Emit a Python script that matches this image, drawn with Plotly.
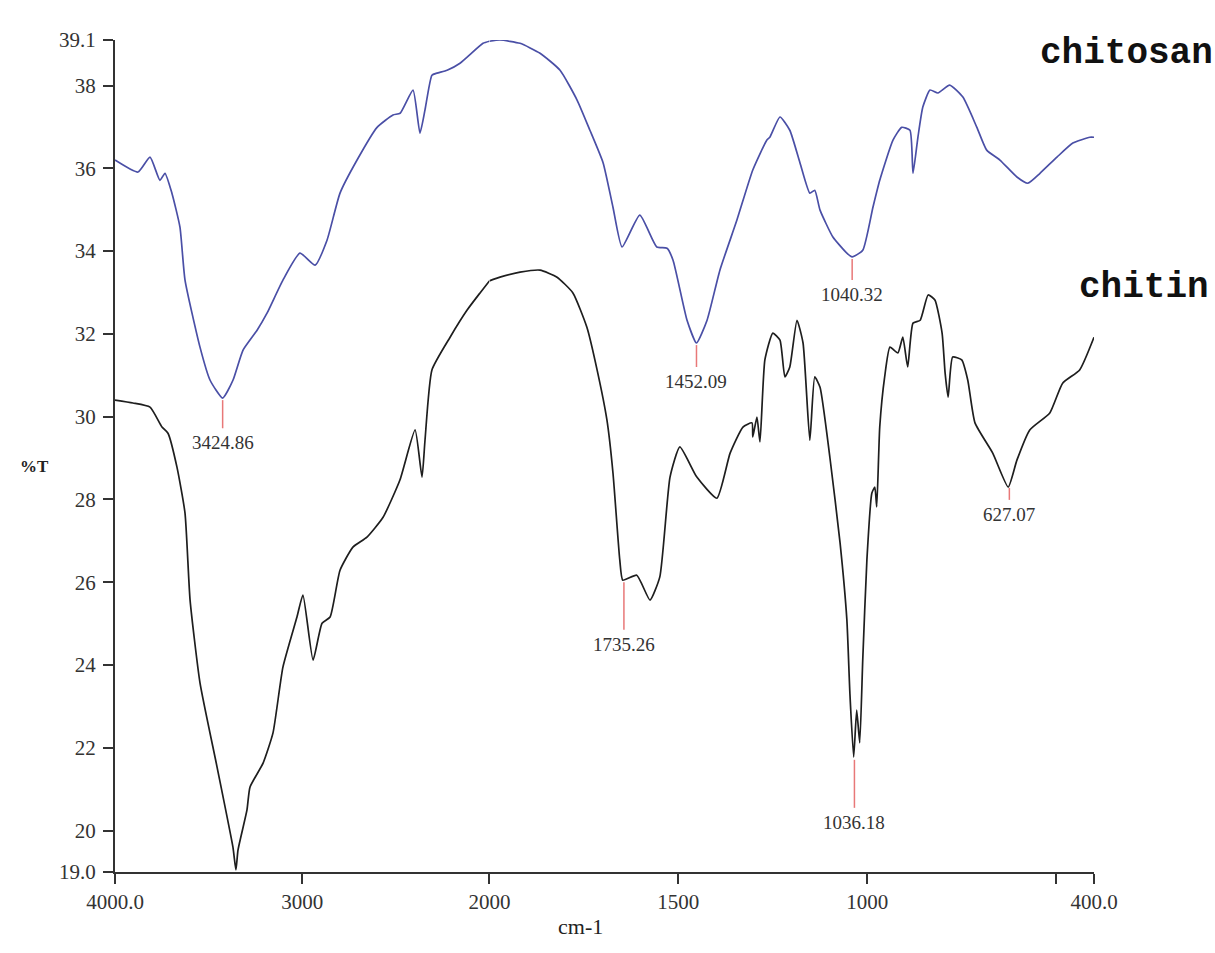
import numpy as np
import plotly.graph_objects as go

# ---------------- data (wavenumber cm-1, %T) ----------------
chitosan_wn = [4000, 3877, 3813, 3760, 3733, 3696, 3653, 3626, 3546, 3492, 3425, 3370, 3316, 3241,
               3188, 3103, 3012, 2931, 2867, 2798, 2707, 2600, 2515, 2477, 2408, 2371, 2344, 2307,
               2280, 2226, 2157, 2034, 2000,
               1972, 1919, 1866, 1813, 1768, 1734, 1699, 1673, 1649, 1602, 1557, 1530, 1514, 1477,
               1452, 1424, 1390, 1345, 1303, 1266, 1258, 1231, 1205, 1178, 1152, 1139, 1125, 1091,
               1054, 1040, 1012, 985, 967, 932, 909, 887, 879, 866, 853, 834, 813, 782, 747, 710,
               684, 649, 604, 575, 543, 498, 456, 411, 400]
chitosan_T = [36.20, 35.91, 36.27, 35.71, 35.88, 35.40, 34.58, 33.30, 31.68, 30.88, 30.45, 30.88, 31.61, 32.09,
              32.50, 33.30, 33.95, 33.66, 34.27, 35.40, 36.20, 36.99, 37.29, 37.33, 37.89, 36.85, 37.41, 38.25,
              38.30, 38.37, 38.54, 39.02, 39.07,
              39.10, 39.02, 38.78, 38.37, 37.65, 36.92, 36.13, 35.06, 34.10, 34.87, 34.10, 34.07, 33.78, 32.33,
              31.78, 32.33, 33.54, 34.75, 35.96, 36.68, 36.75, 37.24, 36.92, 36.13, 35.40, 35.47, 34.99, 34.34,
              33.95, 33.86, 34.02, 35.06, 35.71, 36.68, 36.99, 36.92, 35.88, 36.75, 37.48, 37.89, 37.82, 38.01, 37.72, 36.99,
              36.44, 36.20, 35.79, 35.64, 35.88, 36.27, 36.61, 36.75, 36.75]

chitin_wn = [4000, 3904, 3813, 3749, 3717, 3669, 3626, 3599, 3546, 3455, 3370, 3354, 3343, 3295, 3279,
             3209, 3156, 3103, 3028, 2996, 2942, 2894, 2851, 2798, 2729, 2654, 2568, 2478, 2397, 2360,
             2344, 2307, 2210, 2120, 2050, 2000,
             1972, 1919, 1866, 1821, 1779, 1742, 1715, 1689, 1673, 1655, 1647, 1610, 1575, 1549, 1522,
             1496, 1451, 1398, 1363, 1329, 1305, 1303, 1292, 1284, 1271, 1250, 1231, 1218, 1205, 1186,
             1170, 1152, 1139, 1125, 1099, 1072, 1054, 1046, 1036, 1028, 1020, 1012, 1001, 988, 980,
             975, 967, 954, 940, 919, 906, 893, 879, 860, 839, 821, 802, 794, 786, 774, 750, 734, 715,
             668, 627, 604, 570, 517, 483, 438, 400]
chitin_T = [30.40, 30.33, 30.23, 29.75, 29.60, 28.78, 27.67, 25.57, 23.57, 21.54, 19.60, 19.05, 19.53, 20.50, 21.05,
            21.63, 22.36, 23.95, 25.16, 25.69, 24.12, 25.01, 25.16, 26.29, 26.85, 27.09, 27.57, 28.47, 29.68, 28.54,
            29.43, 31.13, 31.92, 32.57, 32.99, 33.28,
            33.37, 33.49, 33.54, 33.37, 32.99, 32.16, 31.13, 29.92, 28.64, 26.54, 26.05, 26.17, 25.57, 26.13, 28.54,
            29.27, 28.54, 28.03, 29.12, 29.75, 29.85, 29.51, 29.99, 29.39, 31.37, 32.02, 31.85, 30.96, 31.20, 32.33,
            31.78, 29.43, 30.96, 30.71, 29.02, 26.95, 25.09, 23.32, 21.78, 22.91, 22.12, 24.12, 26.54, 28.15, 28.30,
            27.82, 29.75, 30.96, 31.68, 31.54, 31.92, 31.20, 32.26, 32.33, 32.94, 32.82, 32.02, 31.05, 30.47, 31.44, 31.37, 30.88, 29.85,
            29.12, 28.30, 28.95, 29.68, 30.09, 30.81, 31.13, 31.92]

# peak markers: axis position, label, marker top / bottom (%T)
peak_pos = [3425, 1452, 1040, 1644, 1034, 624]
peak_label = ["3424.86", "1452.09", "1040.32", "1735.26", "1036.18", "627.07"]
peak_top = [30.40, 31.73, 33.81, 26.00, 21.71, 28.28]
peak_bottom = [29.72, 31.20, 33.30, 24.85, 20.55, 27.99]

x_ticks_hi = [4000, 3000, 2000]
x_text_hi = ["4000.0", "3000", "2000"]
x_ticks_lo = [1500, 1000, 500, 400]
x_text_lo = ["1500", "1000", "", "400.0"]
y_ticks = [19.0, 20, 22, 24, 26, 28, 30, 32, 34, 36, 38, 39.1]
y_text = ["19.0", "20", "22", "24", "26", "28", "30", "32", "34", "36", "38", "39.1"]

# ---------------- figure ----------------
BLUE = "#4a4fa6"
BLACK = "#1e1e1e"
AX = "#333333"
SERIF = "Liberation Serif, Times New Roman, serif"
MONO = "Liberation Mono, Courier New, monospace"

fig = go.Figure()

def add_split(wn, T, color, width, name):
    wn = np.array(wn, dtype=float)
    T = np.array(T, dtype=float)
    hi = wn >= 2000
    lo = wn <= 2000
    ln = dict(color=color, width=width, shape="spline", smoothing=0.5)
    fig.add_trace(go.Scatter(x=wn[hi], y=T[hi], mode="lines", xaxis="x", yaxis="y",
                             line=ln, name=name, showlegend=False))
    fig.add_trace(go.Scatter(x=wn[lo], y=T[lo], mode="lines", xaxis="x2", yaxis="y",
                             line=ln, name=name, showlegend=False))

add_split(chitosan_wn, chitosan_T, BLUE, 1.7, "chitosan")
add_split(chitin_wn, chitin_T, BLACK, 1.7, "chitin")

for pos, lab, top, bot in zip(peak_pos, peak_label, peak_top, peak_bottom):
    xr = "x" if pos >= 2000 else "x2"
    fig.add_shape(type="line", xref=xr, yref="y", x0=pos, x1=pos, y0=top, y1=bot,
                  line=dict(color="#e87878", width=1.5))
    fig.add_annotation(xref=xr, yref="y", x=pos, y=bot, text=lab, showarrow=False,
                       yanchor="top", xanchor="center", yshift=-2,
                       font=dict(family=SERIF, size=19, color="#333333"))

D = 374.4 / 979.0
axis_common = dict(showline=True, linecolor=AX, linewidth=2, ticks="outside", ticklen=10,
                   tickwidth=2, tickcolor=AX, showgrid=False, zeroline=False,
                   tickfont=dict(family=SERIF, size=21, color="#333333"))

fig.update_layout(
    width=1215, height=953,
    margin=dict(l=115, r=121, t=40, b=81),
    paper_bgcolor="white", plot_bgcolor="white",
    xaxis=dict(domain=[0, D], range=[4000, 2000], tickmode="array", tickvals=x_ticks_hi,
               ticktext=x_text_hi, anchor="y", **axis_common),
    xaxis2=dict(domain=[D, 1], range=[2000, 400], tickmode="array", tickvals=x_ticks_lo,
                ticktext=x_text_lo, anchor="y", **axis_common),
    yaxis=dict(range=[19.0, 39.1], tickmode="array", tickvals=y_ticks, ticktext=y_text,
               ticklabelstandoff=3, **axis_common),
)

fig.add_annotation(xref="paper", yref="paper", x=-0.082, y=0.487, text="<b>%T</b>",
                   showarrow=False, xanchor="center", yanchor="middle",
                   font=dict(family=SERIF, size=17, color="#222222"))
fig.add_annotation(xref="paper", yref="paper", x=0.475, y=-0.066, text="cm-1",
                   showarrow=False, xanchor="center", yanchor="middle",
                   font=dict(family=SERIF, size=22, color="#222222"))
fig.add_annotation(xref="paper", yref="paper", x=0.943, y=0.984, text="<b>chitosan</b>",
                   showarrow=False, xanchor="left", yanchor="middle",
                   font=dict(family=MONO, size=36, color="#111111"))
fig.add_annotation(xref="paper", yref="paper", x=0.983, y=0.703, text="<b>chitin</b>",
                   showarrow=False, xanchor="left", yanchor="middle",
                   font=dict(family=MONO, size=36, color="#111111"))

fig.write_html("out.html")
